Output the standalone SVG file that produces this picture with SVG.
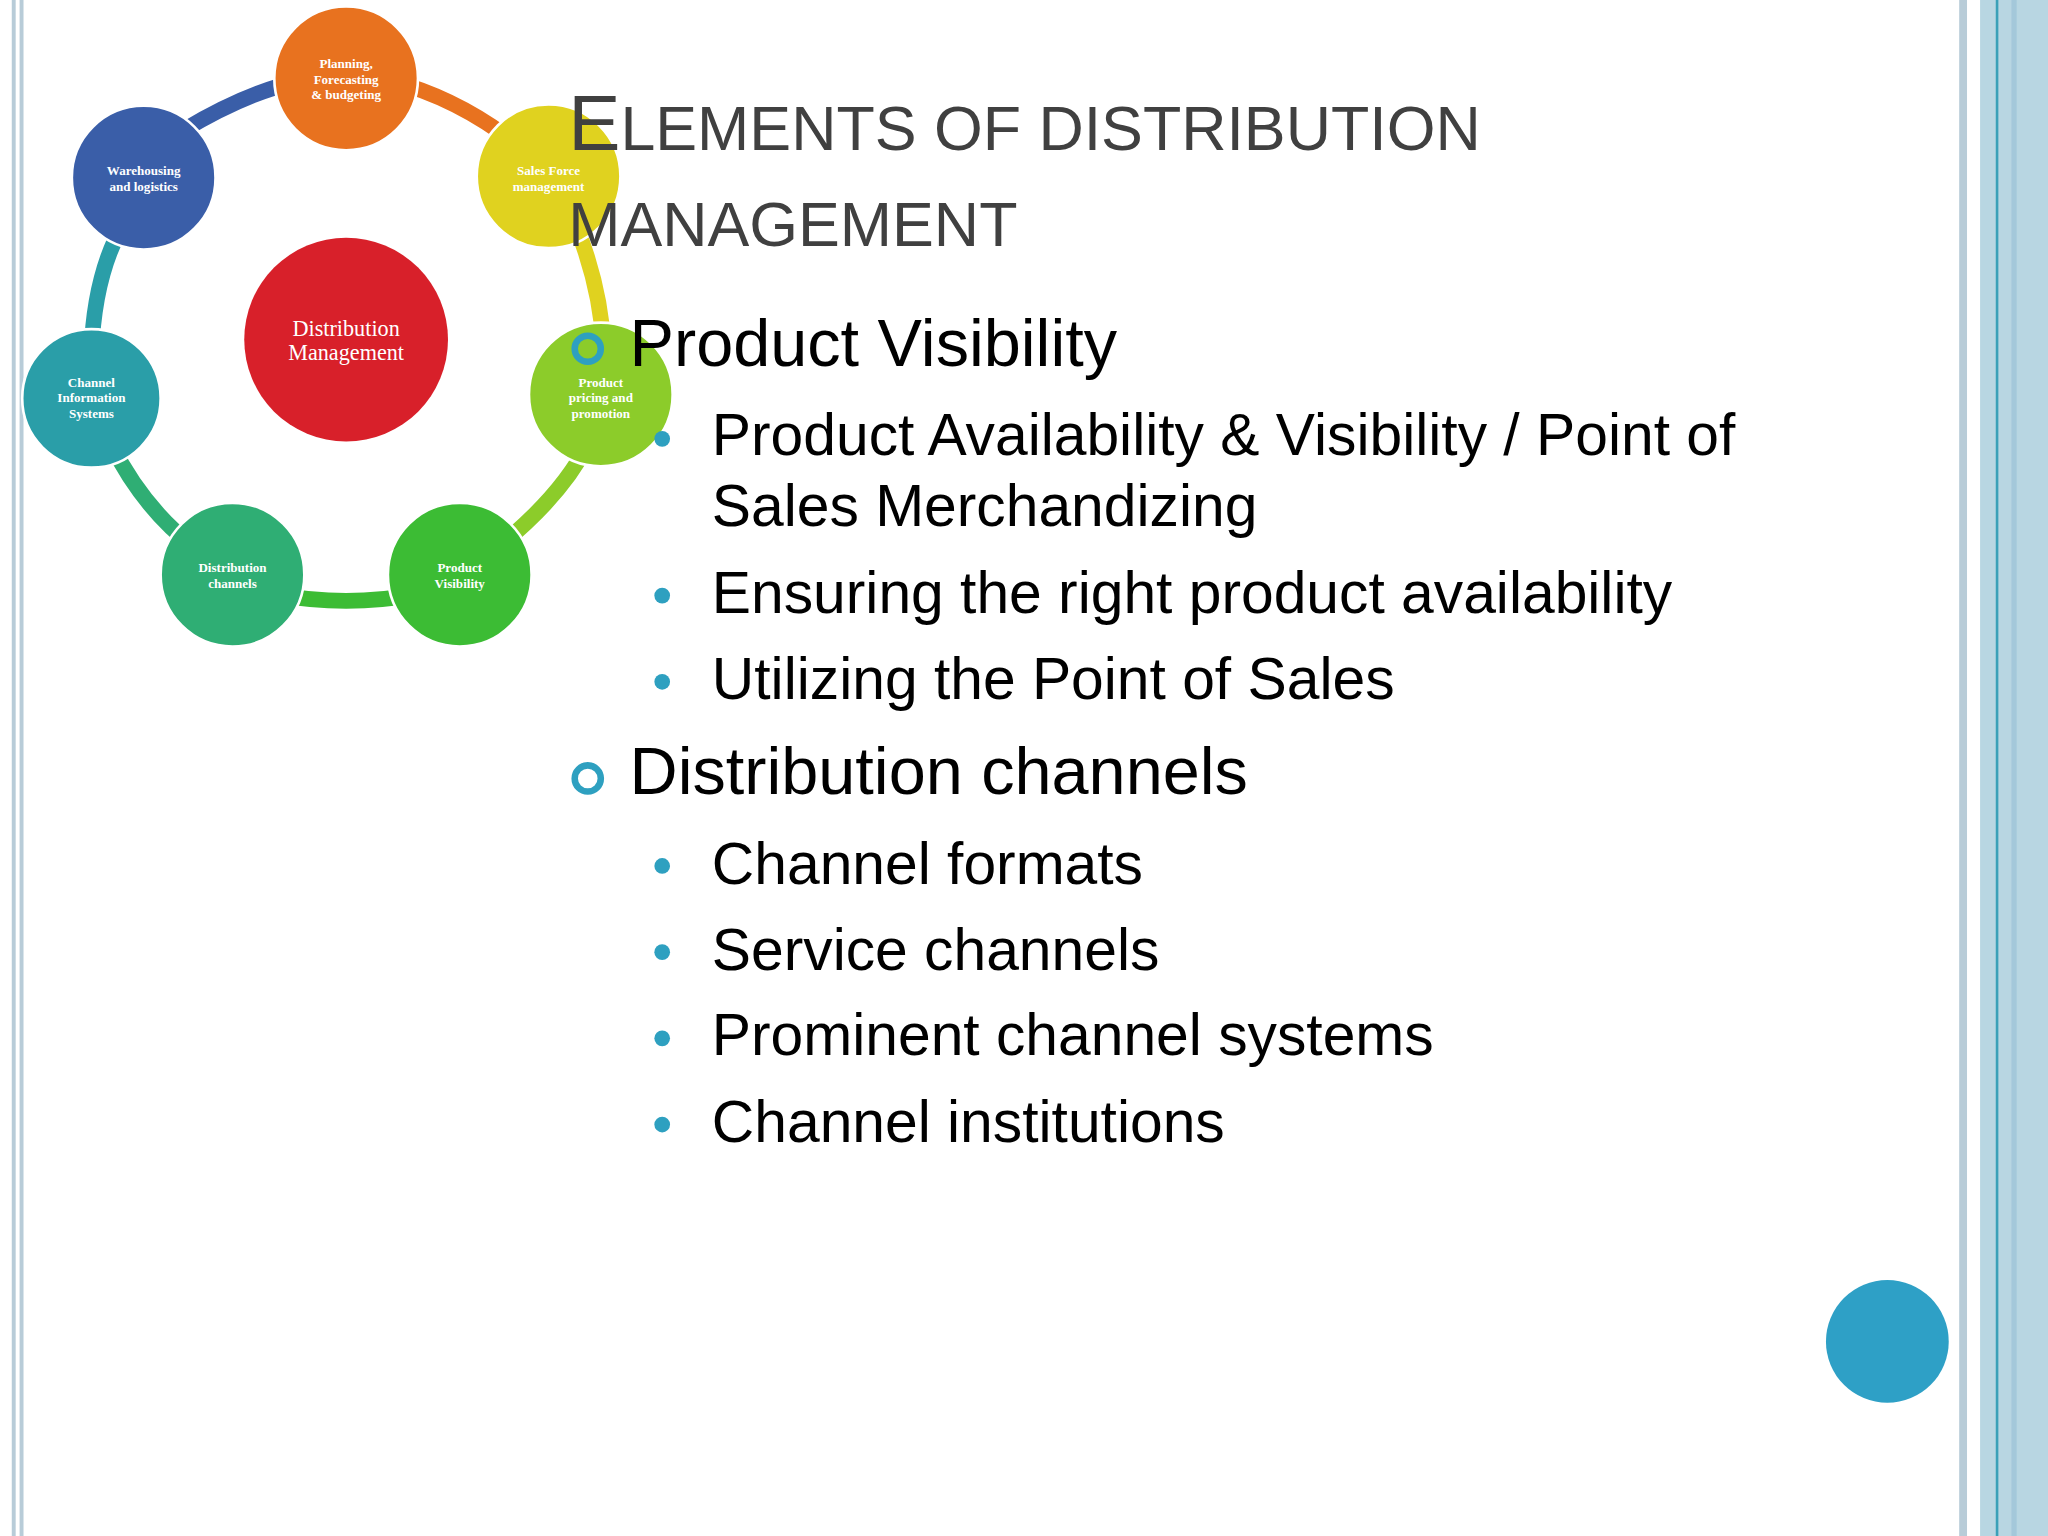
<svg xmlns="http://www.w3.org/2000/svg" width="2048" height="1536" viewBox="0 0 2048 1536">
<style>
.n{font-family:"Liberation Serif",serif;font-weight:bold;fill:#fff;text-anchor:middle;font-size:10px}
.t{font-family:"Liberation Sans",Arial,sans-serif;fill:#000}
.h{font-family:"Liberation Sans",Arial,sans-serif;fill:#404040}
.seg{fill:none;stroke-width:12}
</style>
<rect width="2048" height="1536" fill="#fff"/>
<g transform="scale(1.306122)">
<rect x="9" y="0" width="3" height="1176" fill="#b8ccd8"/>
<rect x="15" y="0" width="3" height="1176" fill="#b8ccd8"/>
<rect x="1500" y="0" width="6" height="1176" fill="#b8ccd8"/>
<rect x="1516" y="0" width="52" height="1176" fill="#b8d6e2"/>
<rect x="1528" y="0" width="2" height="1176" fill="#3aa0b8"/>
<rect x="1540" y="0" width="4" height="1176" fill="#a4c8da"/>
<g id="connectors">
<path class="seg" stroke="#3a5ea8" d="M140,100 Q190,70 230,62"/>
<path class="seg" stroke="#e8721f" d="M300,62 Q350,75 395,110"/>
<path class="seg" stroke="#e0d21f" d="M440,170 Q460,220 462,265"/>
<path class="seg" stroke="#8ccc2a" d="M450,340 Q430,380 380,420"/>
<path class="seg" stroke="#3cbc34" d="M210,455 Q265,465 320,455"/>
<path class="seg" stroke="#2fae74" d="M85,340 Q110,390 150,420"/>
<path class="seg" stroke="#2a9ea8" d="M70,270 Q72,210 95,170"/>
</g>
<g id="n-center"><circle cx="265" cy="260" r="78" fill="#d8202a"/><text class="n" style="font-size:17px;font-weight:normal" x="265" y="257">Distribution</text><text class="n" style="font-size:17px;font-weight:normal" x="265" y="276">Management</text></g>
<g id="n-plan"><circle cx="265" cy="60" r="55" fill="#e8721f" stroke="#fff" stroke-width="2"/><text class="n" x="265" y="52">Planning,</text><text class="n" x="265" y="64">Forecasting</text><text class="n" x="265" y="76">&amp; budgeting</text></g>
<g id="n-sales"><circle cx="420" cy="135" r="55" fill="#e0d21f" stroke="#fff" stroke-width="2"/><text class="n" x="420" y="134">Sales Force</text><text class="n" x="420" y="146">management</text></g>
<g id="n-pricing"><circle cx="460" cy="302" r="55" fill="#8ccc2a" stroke="#fff" stroke-width="2"/><text class="n" x="460" y="296">Product</text><text class="n" x="460" y="308">pricing and</text><text class="n" x="460" y="320">promotion</text></g>
<g id="n-vis"><circle cx="352" cy="440" r="55" fill="#3cbc34" stroke="#fff" stroke-width="2"/><text class="n" x="352" y="438">Product</text><text class="n" x="352" y="450">Visibility</text></g>
<g id="n-chan"><circle cx="178" cy="440" r="55" fill="#2fae74" stroke="#fff" stroke-width="2"/><text class="n" x="178" y="438">Distribution</text><text class="n" x="178" y="450">channels</text></g>
<g id="n-cis"><circle cx="70" cy="305" r="53" fill="#2a9ea8" stroke="#fff" stroke-width="2"/><text class="n" x="70" y="296">Channel</text><text class="n" x="70" y="308">Information</text><text class="n" x="70" y="320">Systems</text></g>
<g id="n-ware"><circle cx="110" cy="136" r="55" fill="#3a5ea8" stroke="#fff" stroke-width="2"/><text class="n" x="110" y="134">Warehousing</text><text class="n" x="110" y="146">and logistics</text></g>
<text class="h" x="435" y="115" font-size="48"><tspan font-size="60">E</tspan>LEMENTS OF DISTRIBUTION</text>
<text class="h" x="435" y="188" font-size="48">MANAGEMENT</text>
<g fill="none" stroke="#2ea0c0" stroke-width="5"><circle cx="450" cy="267" r="10"/><circle cx="450" cy="596" r="10"/></g>
<g fill="#2ea0c0"><circle cx="507" cy="336" r="6"/><circle cx="507" cy="456" r="6"/><circle cx="507" cy="522" r="6"/><circle cx="507" cy="663" r="6"/><circle cx="507" cy="729" r="6"/><circle cx="507" cy="795" r="6"/><circle cx="507" cy="861" r="6"/></g>
<text class="t" x="482" y="280" font-size="51">Product Visibility</text>
<text class="t" x="545" y="348" font-size="45">Product Availability &amp; Visibility / Point of</text>
<text class="t" x="545" y="403" font-size="45">Sales Merchandizing</text>
<text class="t" x="545" y="469" font-size="45">Ensuring the right product availability</text>
<text class="t" x="545" y="535" font-size="45">Utilizing the Point of Sales</text>
<text class="t" x="482" y="608" font-size="51">Distribution channels</text>
<text class="t" x="545" y="677" font-size="45">Channel formats</text>
<text class="t" x="545" y="743" font-size="45">Service channels</text>
<text class="t" x="545" y="808" font-size="45">Prominent channel systems</text>
<text class="t" x="545" y="874" font-size="45">Channel institutions</text>
<circle cx="1445" cy="1027" r="47" fill="#2ea0c6"/>
</g>
</svg>
